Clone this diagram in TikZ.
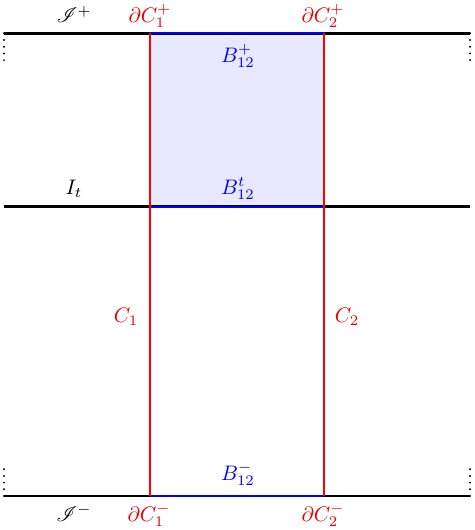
\documentclass[tikz,border=0pt]{standalone}
\usepackage{mathrsfs}
\newcommand{\lab}[1]{\scalebox{2.1}{$#1$}}
\begin{document}
\begin{tikzpicture}[x=1pt,y=-1pt,
  lbl/.style={inner sep=0pt, anchor=base},
  redl/.style={lbl, text=red!90!black},
  bluel/.style={lbl, text=blue},
  hline/.style={line width=2.8pt},
  edge/.style={line width=2.2pt, line cap=round, dash pattern=on 0pt off 6.7pt}]
\useasboundingbox (0,0) rectangle (474,530);
\coordinate (tl) at (4,33.3);
\coordinate (tr) at (470,33.3);
\coordinate (ml) at (4,206.7);
\coordinate (mr) at (470,206.7);
\coordinate (bl) at (4,496);
\coordinate (br) at (470,496);
\coordinate (a1) at (149.5,33.3);
\coordinate (a2) at (324,33.3);
\coordinate (m1) at (149.5,206.7);
\coordinate (m2) at (324,206.7);
\coordinate (b1) at (149.5,496);
\coordinate (b2) at (324,496);
\coordinate (tld) at (4,62);
\coordinate (trd) at (470,62);
\coordinate (bld) at (4,467);
\coordinate (brd) at (470,467);
\fill[blue!9] (a1) rectangle (m2);
\draw[hline] (tl) -- (tr);
\draw[hline] (ml) -- (mr);
\draw[hline] (bl) -- (br);
\draw[edge] (tl) -- (tld);
\draw[edge] (tr) -- (trd);
\draw[edge] (bl) -- (bld);
\draw[edge] (br) -- (brd);
\draw[blue, line width=2.2pt] (a1) -- (a2);
\draw[blue, line width=2.2pt] (m1) -- (m2);
\draw[blue, line width=2.2pt] (b1) -- (b2);
\draw[red, line width=2pt] (a1) -- (b1);
\draw[red, line width=2pt] (a2) -- (b2);
\node[lbl] (sp) at (74,23) {\lab{\mathscr{I}^+}};
\node[lbl] (it) at (74,194) {\lab{I_t}};
\node[lbl] (sm) at (74,521) {\lab{\mathscr{I}^-}};
\node[redl] (c1p) at (150,22) {\lab{\partial C_1^+}};
\node[redl] (c2p) at (323,22) {\lab{\partial C_2^+}};
\node[redl] (c1m) at (149,521) {\lab{\partial C_1^-}};
\node[redl] (c2m) at (323,521) {\lab{\partial C_2^-}};
\node[redl] (c1) at (126,322) {\lab{C_1}};
\node[redl] (c2) at (347,322) {\lab{C_2}};
\node[bluel] (bp) at (238,62) {\lab{B_{12}^+}};
\node[bluel] (bt) at (238,194) {\lab{B_{12}^t}};
\node[bluel] (bm) at (238,480) {\lab{B_{12}^-}};
\end{tikzpicture}
\end{document}
